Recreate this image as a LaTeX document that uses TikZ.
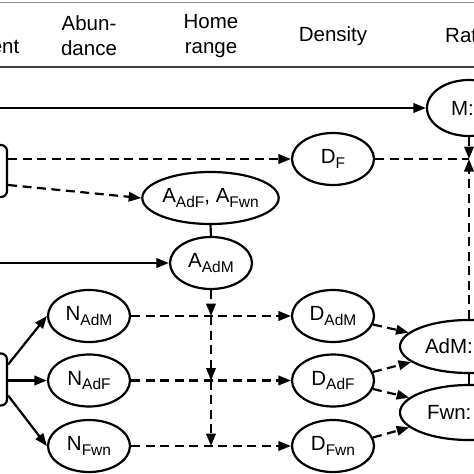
\documentclass[tikz,border=0pt]{standalone}
\usepackage{fontspec}
\setmainfont{Liberation Sans}
\usetikzlibrary{arrows.meta,shapes.geometric,calc}
\newcommand\sbx[1]{\raisebox{-4.5pt}{\fontsize{15.5}{15.5}\selectfont #1}}
\begin{document}
\begin{tikzpicture}[x=1pt,y=-1pt,
  every node/.style={font=\fontsize{20.5}{25}\selectfont},
  oval/.style={ellipse,draw,line width=2.2pt,inner sep=0pt,minimum width=82pt,minimum height=52pt},
  conn/.style={line width=2.2pt},
  dsh/.style={conn,dash pattern=on 9pt off 5.5pt},
  arr/.style={-{Triangle[length=12.5pt,width=9.5pt]}},
  lbox/.style={draw,line width=2.2pt,rounded corners=6pt,minimum width=60pt,minimum height=52pt},
  hdr/.style={inner sep=0pt,align=center}]
\useasboundingbox (0,0) rectangle (474,474);
\clip (0,0) rectangle (474,474);
% header
\draw[black!45,line width=1pt] (0,2.5) -- (474,2.5);
\draw[black!75,line width=1.3pt] (0,67) -- (474,67);
\node[hdr,anchor=base east] (h0) at (19.5,53) {ent};
\node[hdr] (h1) at (89,36) {Abun-\\dance};
\node[hdr] (h2) at (211,36) {Home\\range};
\node[hdr,anchor=base] (h3) at (333,41) {Density};
\node[hdr,anchor=base west] (h4) at (445,42) {Ratio};
% nodes
\node[oval,minimum width=84pt,minimum height=56pt] (M) at (469,108) {\makebox[36pt][l]{M:}};
\node[lbox] (b1) at (-23,171) {};
\node[lbox] (b2) at (-23,379.5) {};
\node[oval] (DF) at (333,159) {D\sbx{F}};
\node[oval,minimum width=135pt] (A1) at (210.5,198) {A\sbx{AdF}, A\sbx{Fwn}};
\node[oval] (AAdM) at (211,263) {A\sbx{AdM}};
\node[oval] (NAdM) at (89,316) {N\sbx{AdM}};
\node[oval] (NAdF) at (89,380.5) {N\sbx{AdF}};
\node[oval] (NFwn) at (89,446) {N\sbx{Fwn}};
\node[oval] (DAdM) at (333,316) {D\sbx{AdM}};
\node[oval] (DAdF) at (333,380.5) {D\sbx{AdF}};
\node[oval] (DFwn) at (333,446) {D\sbx{Fwn}};
\node[oval,minimum width=138pt,minimum height=53pt] (AdM) at (469,346.5) {\makebox[88pt][l]{AdM:}};
\node[oval,minimum width=138pt,minimum height=55pt] (Fwn) at (469,412.5) {\makebox[84pt][l]{Fwn:}};
% connectors
\coordinate (s1) at (-10,107);
\coordinate (s2) at (-10,263);
\draw[conn,arr] (s1 |- M.west) -- (M.west);
\draw[conn,arr] (s2 |- AAdM.west) -- (AAdM.west);
\draw[dsh,arr] (b1.east |- DF.west) -- (DF.west);
\draw[dsh,arr] ($(b1.east)+(0,14)$) -- (A1.west);
\draw[conn] (A1.south) -- (AAdM.north);
\coordinate (j1) at (AAdM.south |- NAdM.east);
\coordinate (j2) at (AAdM.south |- NAdF.east);
\coordinate (j3) at (AAdM.south |- NFwn.east);
\draw[dsh,arr] (NAdM.east) -- (DAdM.west);
\draw[dsh,arr] (NAdF.east) -- (DAdF.west);
\draw[dsh,arr] (NFwn.east) -- (DFwn.west);
\draw[dsh,arr] (AAdM.south) -- (j1);
\draw[dsh,arr] (j1) -- (j2);
\draw[dsh,arr] (j2) -- (j3);
\draw[conn,arr] ($(b2.east)+(0,-15)$) -- (NAdM.west);
\draw[conn,arr] (b2.east |- NAdF.west) -- (NAdF.west);
\draw[conn,arr] ($(b2.east)+(0,16)$) -- (NFwn.west);
\draw[dsh,arr] (DAdM.-12) -- (AdM.167);
\draw[dsh,arr] (DAdF.12) -- (AdM.195);
\draw[dsh,arr] (DAdF.-12) -- (Fwn.166);
\draw[dsh,arr] (DFwn.12) -- (Fwn.194);
\coordinate (j0) at (M.south |- DF.east);
\draw[dsh] (DF.east) -- (j0);
\draw[dsh,arr] (M.south) -- (j0);
\draw[dsh,arr] (AdM.north) -- (j0);
\draw[conn] (AdM.south) -- (Fwn.north);
\end{tikzpicture}
\end{document}
